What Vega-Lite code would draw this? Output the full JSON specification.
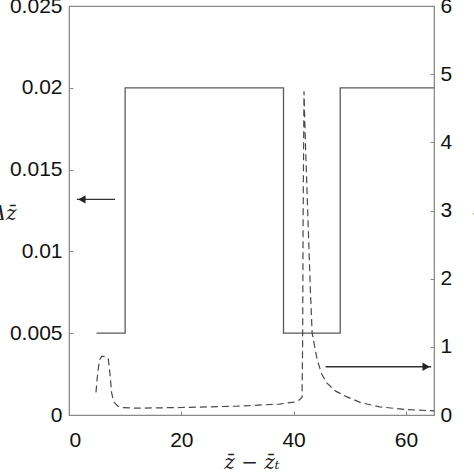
{
  "$schema": "https://vega.github.io/schema/vega-lite/v6.json",
  "autosize": {"type": "none"},
  "width": 365,
  "height": 409,
  "padding": {"left": 69, "top": 6, "right": 40, "bottom": 59},
  "background": "white",
  "config": {
    "view": {"stroke": "#8a8a8a", "strokeWidth": 1.2},
    "axis": {
      "domainColor": "#8a8a8a",
      "tickColor": "#8a8a8a",
      "grid": false,
      "labelColor": "#111",
      "labelFont": "Liberation Sans",
      "labelFontSize": 21,
      "titleColor": "#222",
      "titleFont": "DejaVu Serif",
      "titleFontStyle": "italic",
      "titleFontWeight": "normal",
      "titleFontSize": 20,
      "tickSize": -4
    }
  },
  "datasets": {
    "step": [
      {"x": 4.9, "dz": 0.005},
      {"x": 10.0, "dz": 0.02},
      {"x": 38.2, "dz": 0.005},
      {"x": 48.3, "dz": 0.02},
      {"x": 65.0, "dz": 0.02}
    ],
    "curve": [
      {"x": 4.8, "r": 0.33},
      {"x": 5.1, "r": 0.6},
      {"x": 5.4, "r": 0.8},
      {"x": 5.8, "r": 0.86},
      {"x": 6.5, "r": 0.86},
      {"x": 7.0, "r": 0.82},
      {"x": 7.3, "r": 0.6},
      {"x": 7.6, "r": 0.32},
      {"x": 8.0, "r": 0.19},
      {"x": 8.7, "r": 0.13},
      {"x": 9.5, "r": 0.11},
      {"x": 12, "r": 0.1},
      {"x": 20, "r": 0.11},
      {"x": 30, "r": 0.13},
      {"x": 37.5, "r": 0.16},
      {"x": 40, "r": 0.19},
      {"x": 41.0, "r": 0.22},
      {"x": 41.5, "r": 0.26},
      {"x": 41.6, "r": 1.0},
      {"x": 41.7, "r": 3.0},
      {"x": 41.85, "r": 4.75},
      {"x": 42.1, "r": 4.0},
      {"x": 42.5, "r": 3.0},
      {"x": 43.0, "r": 1.8},
      {"x": 43.3, "r": 1.2},
      {"x": 44.2, "r": 0.81},
      {"x": 45.0, "r": 0.6},
      {"x": 45.9, "r": 0.47},
      {"x": 47.5, "r": 0.35},
      {"x": 49.4, "r": 0.27},
      {"x": 52, "r": 0.18},
      {"x": 55.3, "r": 0.12},
      {"x": 60, "r": 0.08},
      {"x": 65, "r": 0.06}
    ],
    "arrows": [
      {"from": 8.2, "to": 1.4, "head": 2.3, "y": 0.01318, "dir": "triangle-left"},
      {"from": 45.7, "to": 64.5, "head": 63.6, "y": 0.00295, "dir": "triangle-right"}
    ]
  },
  "layer": [
    {
      "layer": [
        {
          "data": {"name": "step"},
          "mark": {"type": "line", "interpolate": "step-after", "color": "#5a5a5a", "strokeWidth": 1.3},
          "encoding": {
            "x": {
              "field": "x", "type": "quantitative",
              "scale": {"domain": [0, 65], "nice": false, "zero": false},
              "axis": {"values": [0, 20, 40, 60], "title": "z̄ − z̄ₜ", "labelPadding": 18, "titlePadding": 2}
            },
            "y": {
              "field": "dz", "type": "quantitative",
              "scale": {"domain": [0, 0.025], "nice": false},
              "axis": {
                "values": [0, 0.005, 0.01, 0.015, 0.02, 0.025],
                "format": "~g",
                "labelPadding": 11,
                "title": "Δz̄",
                "titleAngle": 0,
                "titleAlign": "right",
                "titleBaseline": "middle",
                "titleX": -53,
                "titleY": 207
              }
            }
          }
        },
        {
          "data": {"name": "arrows"},
          "mark": {"type": "rule", "color": "#333", "strokeWidth": 1.3},
          "encoding": {
            "x": {"field": "from", "type": "quantitative"},
            "x2": {"field": "to"},
            "y": {"field": "y", "type": "quantitative"}
          }
        },
        {
          "data": {"name": "arrows"},
          "mark": {"type": "point", "filled": true, "color": "#222", "opacity": 1, "size": 70},
          "encoding": {
            "x": {"field": "head", "type": "quantitative"},
            "y": {"field": "y", "type": "quantitative"},
            "shape": {"field": "dir", "type": "nominal", "scale": {"domain": ["triangle-left", "triangle-right"], "range": ["triangle-left", "triangle-right"]}, "legend": null}
          }
        }
      ]
    },
    {
      "data": {"name": "curve"},
      "mark": {"type": "line", "color": "#4a4a4a", "strokeWidth": 1.2, "strokeDash": [7, 4]},
      "encoding": {
        "x": {"field": "x", "type": "quantitative"},
        "y": {
          "field": "r", "type": "quantitative",
          "scale": {"domain": [0, 6], "nice": false},
          "axis": {
            "orient": "right",
            "values": [0, 1, 2, 3, 4, 5, 6],
            "labelPadding": 10,
            "title": "−",
            "titleAngle": 0,
            "titleAlign": "left",
            "titleBaseline": "middle",
            "titleX": 37,
            "titleY": 207
          }
        }
      }
    }
  ],
  "resolve": {"scale": {"y": "independent"}}
}
